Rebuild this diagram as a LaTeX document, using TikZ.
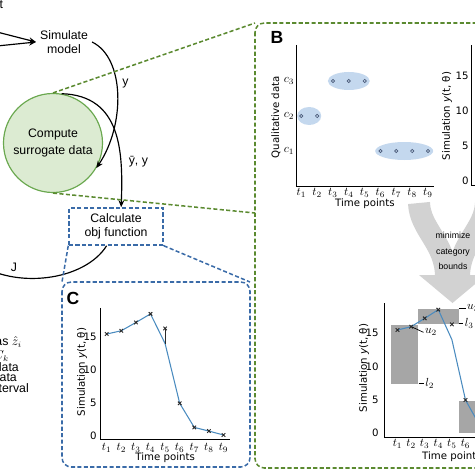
\documentclass[tikz,border=0pt]{standalone}
\usepackage{fontspec}
\setmainfont{Liberation Sans}
\newfontfamily\plotfont{DejaVu Sans}
\usetikzlibrary{arrows.meta,positioning,shapes.geometric}
\definecolor{FigGreen}{HTML}{5B8A30}
\definecolor{FigBlue}{HTML}{3A6BA8}
\definecolor{SurrFill}{HTML}{DCEBD2}
\definecolor{SurrLine}{HTML}{6AA84F}
\definecolor{CatBlue}{HTML}{C4D8EE}
\definecolor{CatDot}{HTML}{4A5A78}
\definecolor{BoundGray}{HTML}{A6A6A6}
\definecolor{ArrowGray}{HTML}{D2D2D2}
\definecolor{SimLine}{HTML}{4A8BBF}
\definecolor{MarkDark}{HTML}{2A2A2A}
\tikzset{
  flow/.style={-{Stealth[length=6pt,width=5pt]},line width=1pt},
  greenlink/.style={FigGreen,line width=1.3pt,dash pattern=on 3.5pt off 2pt},
  bluelink/.style={FigBlue,line width=1.3pt,dash pattern=on 3.5pt off 2pt},
  surr/.style={circle,draw=SurrLine,fill=SurrFill,line width=1pt,minimum size=2.97cm,align=center,inner sep=0pt},
  calcbox/.style={bluelink,draw,text=black,minimum width=2.82cm,minimum height=1.11cm,align=center},
  axisline/.style={line width=0.8pt},
  simline/.style={SimLine,line width=0.9pt},
  xmark/.style={MarkDark,line width=0.8pt},
  catpt/.style={CatDot,line width=0.6pt},
  arrowband/.style={ArrowGray,line width=0.66cm},
  panellabel/.style={font=\fontsize{15}{15}\selectfont\bfseries},
  plottext/.style={font=\plotfont\fontsize{8.7}{10}\selectfont},
  mathtick/.style={font=\fontsize{10}{11}\selectfont,inner sep=1pt}
}

\begin{document}
\begin{tikzpicture}[x=0.03cm,y=-0.03cm,font=\fontsize{10.5}{12}\selectfont]
\useasboundingbox (0,0) rectangle (474,474);

% flow chart on the left
\node[anchor=base west,inner sep=0pt] (topfrag) at (-0.5,8.5) {t};
\node[align=center] (sim) at (64,42) {Simulate\\model};
\coordinate (inA) at (-3,32);
\coordinate (inB) at (-3,46);
\draw[flow] (inA) -- (sim.west);
\draw[flow] (inB) -- (sim.west);
\node[surr,font=\fontsize{10.5}{14}\selectfont] (surr) at (53,143) {Compute\\surrogate data};
\node[calcbox,font=\fontsize{10.5}{12}\selectfont] (calc) at (116,226.5) {Calculate\\obj function};

\draw[flow] (sim.east) .. controls +(33,16) and +(29,-43) .. (surr.-30) node[pos=0.42,right=1pt] {y};
\draw[flow] (surr.80) .. controls +(60,2) and +(2,-55) .. (calc.75) node[pos=0.72,right=3pt] {ȳ, y};
\coordinate (jend) at (-25,262);
\draw[line width=1pt] (calc.-116) .. controls +(-22,35) and +(40,28) .. (jend) node[pos=0.72,above=1pt] {J};

% cut-off legend
\node[anchor=east,inner sep=0pt] (lg1) at (22,342) {as $\hat{z}_i$};
\node[anchor=east,inner sep=0pt] (lg2) at (9,356) {$C_k$};
\node[anchor=east,inner sep=0pt] (lg3) at (19,367) {data};
\node[anchor=east,inner sep=0pt] (lg4) at (17,377.5) {data};
\node[anchor=east,inner sep=0pt] (lg5) at (29,388) {interval};

% panel frames
\coordinate (Bnw) at (255,23);
\coordinate (Bse) at (560,468);
\coordinate (Bjoin) at (255,213);
\coordinate (Cnw) at (62,282);
\coordinate (Cne) at (250,282);
\coordinate (Cse) at (250,467);
\draw[greenlink,rounded corners=8pt] (Bnw) rectangle (Bse);
\draw[greenlink] (surr.north) -- (Bnw);
\draw[greenlink] (surr.south) -- (Bjoin);
\draw[bluelink,rounded corners=8pt] (Cnw) rectangle (Cse);
\draw[bluelink] (calc.south west) -- (Cnw);
\draw[bluelink] (calc.south east) -- (Cne);
\node[panellabel] (labB) at (277,37) {B};
\node[panellabel] (labC) at (73,298) {C};

% gray arrow
\draw[arrowband] (419,203) .. controls (420,230) and (446,243) .. (446,277);
\draw[arrowband] (486,203) .. controls (485,230) and (459,243) .. (459,277);
\fill[ArrowGray] (419,275) -- (486,275) -- (452.5,303) -- cycle;
\node[align=center,font=\fontsize{7.5}{13.3}\selectfont] (minlab) at (453,251) {minimize\\category\\bounds};

% B: qualitative data
\begin{scope}[shift={(301.3,186)},x=0.475cm,y=1.05cm,plottext]
\fill[CatBlue] (0.5,2) ellipse [x radius=0.36cm,y radius=0.27cm];
\fill[CatBlue] (3,3) ellipse [x radius=0.63cm,y radius=0.27cm];
\fill[CatBlue] (6.5,1) ellipse [x radius=0.87cm,y radius=0.27cm];
\foreach \i/\c in {0/2,1/2,2/3,3/3,4/3,5/1,6/1,7/1,8/1}
  \draw[catpt] (\i,\c) circle[radius=1.4pt];
\draw[axisline] (-0.335,4.03) -- (-0.335,0) -- (8.38,0);
\foreach \k in {1,2,3}
  \node[anchor=east,mathtick] at (-0.36,\k) {$c_{\k}$};
\foreach \i in {1,...,9}
  \node[mathtick] at (\i-1,-0.2) {$t_{\i}$};
\node[inner sep=1pt] at (4.02,-0.5) {Time points};
\node[rotate=90] at (-1.6,1.97) {Qualitative data};
\end{scope}

% B: simulation, cut at the right
\begin{scope}[shift={(471,181)},y=0.21cm,plottext]
\draw[axisline] (0,19.4) -- (0,-0.57) -- (60,-0.57);
\foreach \v in {0,5,10,15}
  \node[anchor=east,inner sep=1pt] at (-1,\v) {\v};
\node[rotate=90] at (-24,9.3) {Simulation {\itshape y}(t, θ)};
\end{scope}

% B: simulation with category bounds
\begin{scope}[shift={(397.5,433)},x=0.408cm,y=0.2cm,plottext]
\fill[BoundGray] (-0.5,7.35) rectangle (1.5,16.2);
\fill[BoundGray] (1.5,16.3) rectangle (4.5,18.6);
\fill[BoundGray] (4.5,0) rectangle (9,4.8);
\draw[axisline] (-0.99,19.5) -- (-0.99,-0.6) -- (9,-0.6);
\draw[simline] (0,15.45) -- (1,15.95) -- (2,17.2) -- (3,18.5) -- (4,14.0) -- (5,4.95) -- (6,1.3) -- (7,0.75) -- (8,0.15);
\foreach \i/\v in {0/15.45,1/15.95,2/17.2,3/18.5,4/16.3,5/4.95,6/1.3,7/0.75,8/0.15}
  \draw[xmark] (\i,\v) +(-1.5pt,-1.5pt) -- +(1.5pt,1.5pt) +(-1.5pt,1.5pt) -- +(1.5pt,-1.5pt);
\draw[line width=0.6pt] (1.07,15.9) -- (1.91,15.1) node[anchor=west,mathtick] {$u_2$};
\draw[line width=0.6pt] (1.56,7.45) -- (1.93,7.45) node[anchor=west,mathtick] {$l_2$};
\draw[line width=0.6pt] (4.52,18.7) -- (5.0,18.7) node[anchor=west,mathtick] {$u_3$};
\draw[line width=0.6pt] (4.52,16.4) -- (4.85,16.4) node[anchor=west,mathtick] {$l_3$};
\foreach \v in {0,5,10,15}
  \node[anchor=east,inner sep=1pt] at (-1.29,\v) {\v};
\foreach \i in {1,...,6}
  \node[mathtick] at (\i-1,-1.6) {$t_{\i}$};
\node[inner sep=1pt] at (4,-3.55) {Time points};
\node[rotate=90] at (-2.46,9.75) {Simulation {\itshape y}(t, θ)};
\end{scope}

% C: objective function
\begin{scope}[shift={(106.7,436)},x=0.438cm,y=0.198cm,plottext]
\draw[axisline] (-0.46,19.4) -- (-0.46,-0.6) -- (8.45,-0.6);
\draw[simline] (0,15.45) -- (1,15.95) -- (2,17.2) -- (3,18.5) -- (4,14.0) -- (5,4.95) -- (6,1.3) -- (7,0.75) -- (8,0.15);
\draw[xmark] (4,14.0) -- (4,16.3);
\foreach \i/\v in {0/15.45,1/15.95,2/17.2,3/18.5,4/16.3,5/4.95,6/1.3,7/0.75,8/0.15}
  \draw[xmark] (\i,\v) +(-1.5pt,-1.5pt) -- +(1.5pt,1.5pt) +(-1.5pt,1.5pt) -- +(1.5pt,-1.5pt);
\foreach \v in {0,5,10,15}
  \node[anchor=east,inner sep=1pt] at (-0.6,\v) {\v};
\foreach \i in {1,...,9}
  \node[mathtick] at (\i-1,-1.75) {$t_{\i}$};
\node[inner sep=1pt] at (4,-3.35) {Time points};
\node[rotate=90] at (-1.69,9.7) {Simulation {\itshape y}(t, θ)};
\end{scope}
\end{tikzpicture}
\end{document}
